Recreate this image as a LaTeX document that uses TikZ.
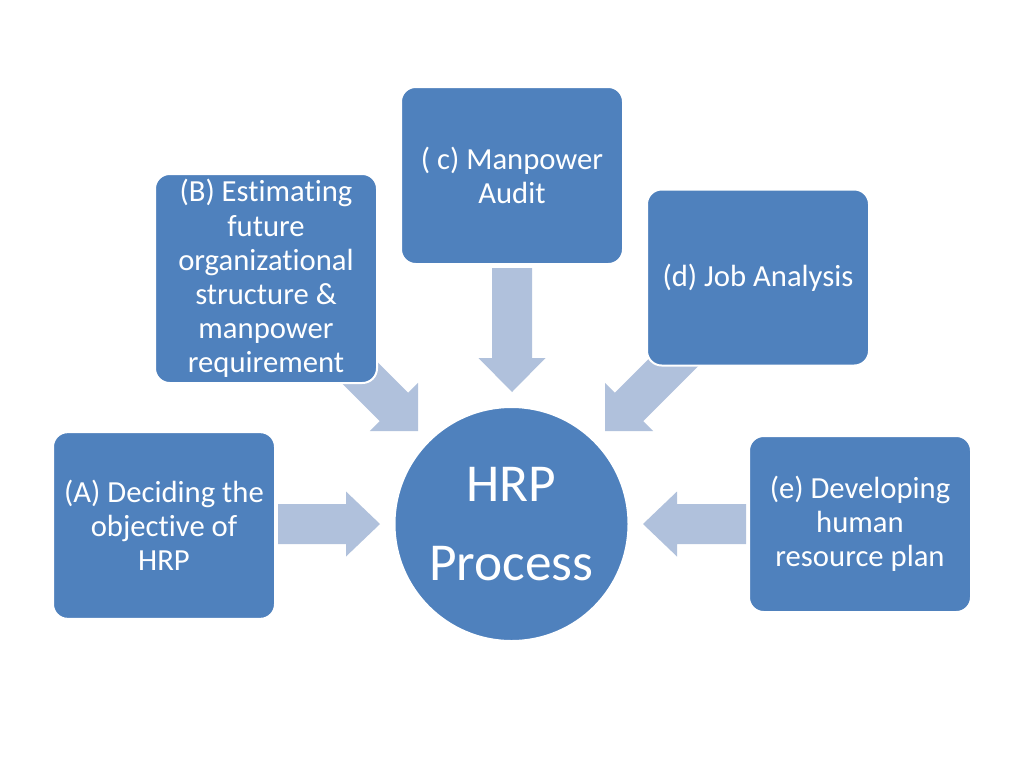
\documentclass[tikz,border=0pt]{standalone}
\usepackage{fontspec}
\setmainfont{Carlito}[Ligatures=NoCommon]
\definecolor{boxblue}{HTML}{4F81BD}
\definecolor{arrowblue}{HTML}{B0C1DC}
\newcommand{\blockarrow}[4]{% tip, angle, length, head half width
  \begin{scope}[shift={#1},rotate=#2]
    \fill[arrowblue] (0,0) -- (-34,#4) -- (-34,20) -- (-#3,20) -- (-#3,-20) -- (-34,-20) -- (-34,-#4) -- cycle;
  \end{scope}}
\begin{document}
\begin{tikzpicture}[x=0.75pt,y=-0.75pt,
  stepbox/.style={rectangle,rounded corners=11pt,fill=boxblue,draw=white,line width=1.5pt,
    text=white,align=center,inner sep=0pt,minimum width=166.5pt,
    font=\fontsize{23}{25.6}\selectfont},
  hub/.style={circle,fill=boxblue,draw=white,line width=1.5pt,text=white,align=center,
    inner sep=0pt,minimum size=175.5pt,font=\fontsize{40}{59}\selectfont}]
\useasboundingbox (0,0) rectangle (1024,768);
\fill[white] (0,0) rectangle (1024,768);
% arrows
\coordinate (tA) at (380,524);
\coordinate (tE) at (643,524);
\coordinate (tC) at (512,392);
\coordinate (tB) at (418,431);
\coordinate (tD) at (605,431);
\blockarrow{(tA)}{0}{102}{32.5}
\blockarrow{(tE)}{180}{103}{32.5}
\blockarrow{(tC)}{-90}{124}{33.5}
\blockarrow{(tB)}{-45}{115}{34}
\blockarrow{(tD)}{-135}{115}{34}
% boxes
\node[stepbox,minimum height=140pt] (A) at (164,525.5) {(A) Deciding the\\objective of\\HRP};
\node[stepbox,minimum height=156.75pt] (B) at (266,278.5) {(B) Estimating\\future\\organizational\\structure \&\\manpower\\requirement};
\node[stepbox,minimum height=132.75pt] (C) at (512,175.5) {( c) Manpower\\Audit};
\node[stepbox,minimum height=132pt] (D) at (758,277.5) {(d) Job Analysis};
\node[stepbox,minimum height=132pt] (E) at (860,524) {(e) Developing\\human\\resource plan};
\node[hub] (H) at (511.5,524) {HRP\\Process};
\end{tikzpicture}
\end{document}
